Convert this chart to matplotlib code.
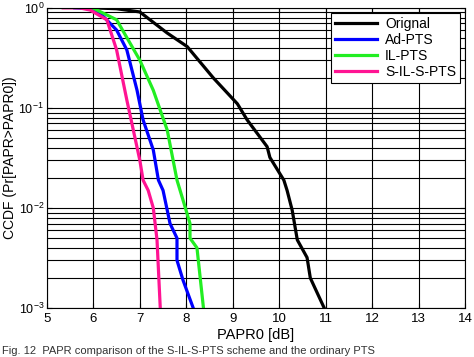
import numpy as np
import matplotlib.pyplot as plt
from matplotlib.ticker import LogLocator, NullFormatter

plt.rcParams['font.family'] = ['Liberation Sans', 'DejaVu Sans']

# CURVAS (x en dB, y = CCDF)
orig_x = [6.0, 6.5, 7.0, 7.59, 8.02, 8.58, 9.1, 9.31, 9.74, 9.8, 10.1, 10.17, 10.28, 10.39, 10.6, 10.67, 10.97]
orig_y = [1.0, 0.98, 0.91, 0.56, 0.41, 0.20, 0.11, 0.076, 0.041, 0.032, 0.019, 0.015, 0.0095, 0.0048, 0.0032, 0.002, 0.001]

ad_x = [5.6, 5.86, 6.14, 6.5, 6.72, 6.94, 7.07, 7.29, 7.4, 7.5, 7.65, 7.8, 7.8, 7.93, 8.15]
ad_y = [1.0, 0.99, 0.89, 0.6, 0.38, 0.15, 0.076, 0.038, 0.019, 0.015, 0.007, 0.005, 0.003, 0.0019, 0.001]

il_x = [5.9, 6.0, 6.5, 7.0, 7.29, 7.59, 7.8, 7.93, 8.08, 8.08, 8.23, 8.3, 8.37]
il_y = [1.0, 0.99, 0.76, 0.30, 0.15, 0.06, 0.019, 0.012, 0.007, 0.005, 0.004, 0.002, 0.001]

sil_x = [5.35, 5.7, 5.93, 6.29, 6.5, 6.72, 6.86, 7.0, 7.07, 7.18, 7.29, 7.37, 7.44]
sil_y = [1.0, 1.0, 0.95, 0.76, 0.38, 0.12, 0.06, 0.03, 0.019, 0.015, 0.01, 0.0048, 0.001]

nombres = ['Orignal', 'Ad-PTS', 'IL-PTS', 'S-IL-S-PTS']
colores = ['black', '#0000ff', '#22ee22', '#ff1493']

fig = plt.figure(figsize=(4.74, 3.57), dpi=100)
ax = fig.add_axes([0.099, 0.137, 0.882, 0.841])

datos = [(orig_x, orig_y), (ad_x, ad_y), (il_x, il_y), (sil_x, sil_y)]
for (xs, ys), nom, col in zip(datos, nombres, colores):
    ax.plot(xs, ys, color=col, lw=2.3, label=nom)

ax.set_yscale('log')
ax.set_xlim(5, 14)
ax.set_ylim(1e-3, 1)
ax.set_xticks(range(5, 15))
ax.yaxis.set_major_locator(LogLocator(base=10, numticks=5))
ax.yaxis.set_minor_locator(LogLocator(base=10, subs=np.arange(2, 10), numticks=20))
ax.yaxis.set_minor_formatter(NullFormatter())
ax.grid(True, which='major', color='black', lw=0.8)
ax.grid(True, which='minor', axis='y', color='black', lw=0.8)
ax.tick_params(which='both', direction='in', right=True, top=True, labelsize=9.5)
ax.tick_params(axis='y', labelsize=9, pad=2)
for s in ax.spines.values():
    s.set_linewidth(0.8)

ax.set_xlabel('PAPR0 [dB]', fontsize=10.5, labelpad=2)
ax.set_ylabel('CCDF (Pr[PAPR>PAPR0])', fontsize=10, labelpad=1)

leg = ax.legend(loc='upper right', fontsize=10, fancybox=False, framealpha=1,
                edgecolor='black', handlelength=3.0, borderaxespad=0.35,
                labelspacing=0.15, borderpad=0.3, handletextpad=0.6)
leg.get_frame().set_linewidth(0.8)

fig.text(0.005, 0.003, 'Fig. 12  PAPR comparison of the S-IL-S-PTS scheme and the ordinary PTS',
         fontsize=8, color='#333333', va='bottom')

fig.savefig('out.png', dpi=100)
